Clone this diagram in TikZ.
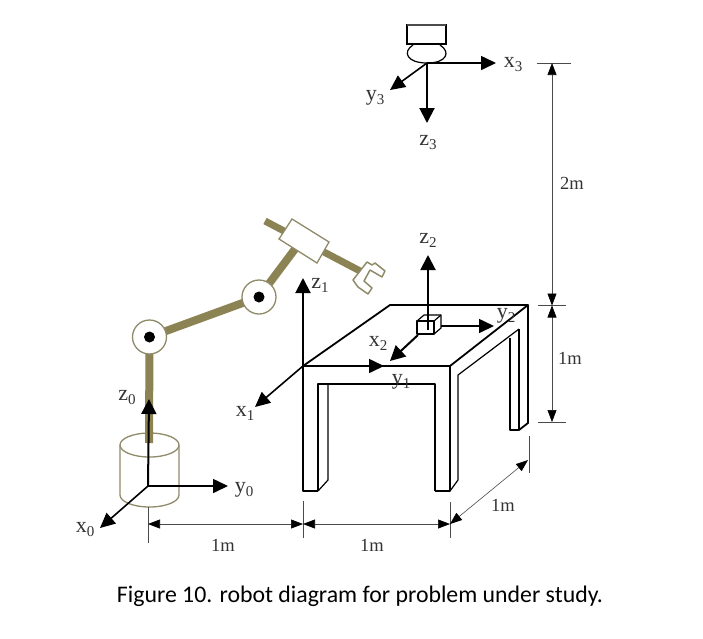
\documentclass[tikz,border=0pt]{standalone}
\usepackage{fontspec}
\setmainfont{Liberation Serif}
\newfontfamily\captionfont{Carlito}
\usetikzlibrary{arrows.meta}
\definecolor{linkcol}{HTML}{8C8355}
\definecolor{baseedge}{HTML}{8F8A68}
\definecolor{dimcol}{HTML}{4A4A4A}
\newcommand{\idx}[1]{\raisebox{-4pt}{\fontsize{15}{15}\selectfont #1}}
\tikzset{
    axis/.style={line width=1.6pt, -{Triangle[length=15pt,width=14pt]}},
    heavyaxis/.style={line width=2pt, -{Triangle[length=15pt,width=15pt]}},
    tablethick/.style={line width=1.8pt, line join=round},
    tablethin/.style={line width=1.2pt, line join=round},
    link/.style={line width=8pt, color=linkcol},
    dimline/.style={line width=0.6pt, color=dimcol, {Triangle[length=12pt,width=9pt,black]}-{Triangle[length=12pt,width=9pt,black]}},
    dimtick/.style={line width=0.7pt, color=dimcol},
    lbl/.style={font=\fontsize{22}{24}\selectfont, text=black!80, inner sep=0pt},
    dimlbl/.style={font=\fontsize{18.5}{20}\selectfont, text=black!80, inner sep=0pt}
}
\begin{document}
\begin{tikzpicture}[x=1pt, y=-1pt]
    \useasboundingbox (0,0) rectangle (703,638);

    % Base cylinder
    \draw[line width=1.3pt, baseedge, fill=white] (120,445) -- (120,495) arc [start angle=180, end angle=0, x radius=29.5, y radius=12] -- (179,445);
    \draw[line width=1.3pt, baseedge, fill=white] (149.5,445) ellipse [x radius=29.5, y radius=12];

    % Arm links and joints
    \draw[link] (149,443) -- (149.5,337);
    \draw[link] (149.5,337) -- (259,297);
    \draw[link] (259,297) -- (295,249);
    \draw[link, line width=7pt] (265,221) -- (362,272);
    \draw[line width=1.3pt, baseedge, fill=white] (292,219) -- (329,242) -- (317,263) -- (279,239) -- cycle;
    \foreach \jx/\jy in {149.5/337, 259/297} {
        \draw[line width=1.3pt, baseedge, fill=white] (\jx,\jy) circle (17);
        \fill[black] (\jx,\jy) circle (5.5);
    }

    % Gripper
    \draw[line width=1.5pt, baseedge, fill=white, line join=round] (367,262) -- (372,265) -- (375,263) -- (385,271) -- (382,277) -- (370,270) -- (364,281) -- (372,288) -- (368,294) -- (358,287) -- (353,280) -- cycle;

    % Table, front frame
    \draw[tablethin] (318,491) -- (318,384) -- (435,384) -- (435,491);
    \draw[tablethin] (328,384) -- (328,480) -- (318,491);
    \draw[tablethick] (303,366) -- (303,491) -- (318,491);
    \draw[tablethick] (435,491) -- (450,491) -- (450,366);
    \draw[tablethick] (303,366) -- (390,305) -- (528,305) -- (450,366) -- cycle;

    % Table, side and back leg
    \draw[tablethin] (450,491) -- (458,480) -- (458,375) -- (519,329);
    \draw[tablethin] (510,338) -- (510,430) -- (519,430) -- (519,329);
    \draw[tablethick] (528,305) -- (528,423) -- (519,430);

    % Small cube on the table
    \draw[tablethin] (417,321) rectangle (434,334);
    \draw[tablethin] (417,321) -- (424,315) -- (441,315) -- (441,328) -- (434,334);
    \draw[tablethin] (434,321) -- (441,315);

    % Camera
    \draw[line width=1.4pt, fill=white] (407,25) rectangle (446,44);
    \draw[line width=2.5pt, black!70] (407,25) -- (446,25);
    \draw[line width=1.2pt] (413,45) .. controls (402,52) and (407,63) .. (427,63) .. controls (447,63) and (451,52) .. (440,45);

    % Frame origins and arrow ends
    \coordinate (o0) at (148,486);
    \coordinate (o1) at (303,366);
    \coordinate (o2) at (428,330);
    \coordinate (o3) at (427,63);
    \coordinate (x0end) at (100,528);
    \coordinate (y0end) at (228,486);
    \coordinate (z0end) at (149,399);
    \coordinate (x1end) at (255,407);
    \coordinate (y1end) at (384,366);
    \coordinate (z1end) at (303,278);
    \coordinate (x2start) at (418,335);
    \coordinate (x2end) at (390,361);
    \coordinate (y2start) at (441,326);
    \coordinate (y2end) at (494,326);
    \coordinate (z2end) at (428,255);
    \coordinate (x3end) at (496,63);
    \coordinate (y3end) at (390,90);
    \coordinate (z3end) at (427,123);

    % Frame axes
    \foreach \fr in {0,1,3} {
        \draw[axis] (o\fr) -- (x\fr end);
        \draw[axis] (o\fr) -- (y\fr end);
        \draw[heavyaxis] (o\fr) -- (z\fr end);
    }
    \draw[heavyaxis] (x2start) -- (x2end);
    \draw[axis] (y2start) -- (y2end);
    \draw[heavyaxis] (o2) -- (z2end);

    % Frame labels
    \node[lbl] (x0) at (85,530) {x\idx{0}};
    \node[lbl] (y0) at (244,490) {y\idx{0}};
    \node[lbl] (z0) at (127,398) {z\idx{0}};
    \node[lbl] (x1) at (245,413) {x\idx{1}};
    \node[lbl] (y1) at (401,382) {y\idx{1}};
    \node[lbl] (z1) at (320,285) {z\idx{1}};
    \node[lbl] (x2) at (378,343) {x\idx{2}};
    \node[lbl] (y2) at (506,316) {y\idx{2}};
    \node[lbl] (z2) at (428,240) {z\idx{2}};
    \node[lbl] (x3) at (513,65) {x\idx{3}};
    \node[lbl] (y3) at (375,98) {y\idx{3}};
    \node[lbl] (z3) at (428,143) {z\idx{3}};

    % Dimension ticks
    \coordinate (d0) at (148,524);
    \coordinate (d1) at (303,524);
    \coordinate (d2) at (450,524);
    \coordinate (d3) at (528,460);
    \coordinate (h0) at (552,63);
    \coordinate (h1) at (552,305.5);
    \coordinate (h2) at (552,422);
    \draw[dimtick] (148,507) -- (148,543);
    \draw[dimtick] (303,501) -- (303,538);
    \draw[dimtick] (450,502) -- (450,538);
    \draw[dimtick] (529,436) -- (529,473);
    \draw[dimtick] (537,63) -- (571,63);
    \draw[dimtick] (538,305.5) -- (566,305.5);
    \draw[dimtick] (538,422) -- (566,422);

    % Dimension lines
    \draw[dimline] (d0) -- (d1);
    \draw[dimline] (d1) -- (d2);
    \draw[dimline] (d2) -- (d3);
    \draw[dimline] (h0) -- (h1);
    \draw[dimline] (h1) -- (h2);

    % Dimension labels
    \node[dimlbl] (m01) at (223,545) {1m};
    \node[dimlbl] (m12) at (372,545) {1m};
    \node[dimlbl] (m23) at (503,505) {1m};
    \node[dimlbl] (m2) at (572,183) {2m};
    \node[dimlbl] (m1) at (570,358) {1m};

    % Caption
    \node[inner sep=0pt, font=\captionfont\fontsize{23.8}{26}\selectfont] (caption) at (360,596) {Figure 10. robot diagram for problem under study.};

\end{tikzpicture}
\end{document}
